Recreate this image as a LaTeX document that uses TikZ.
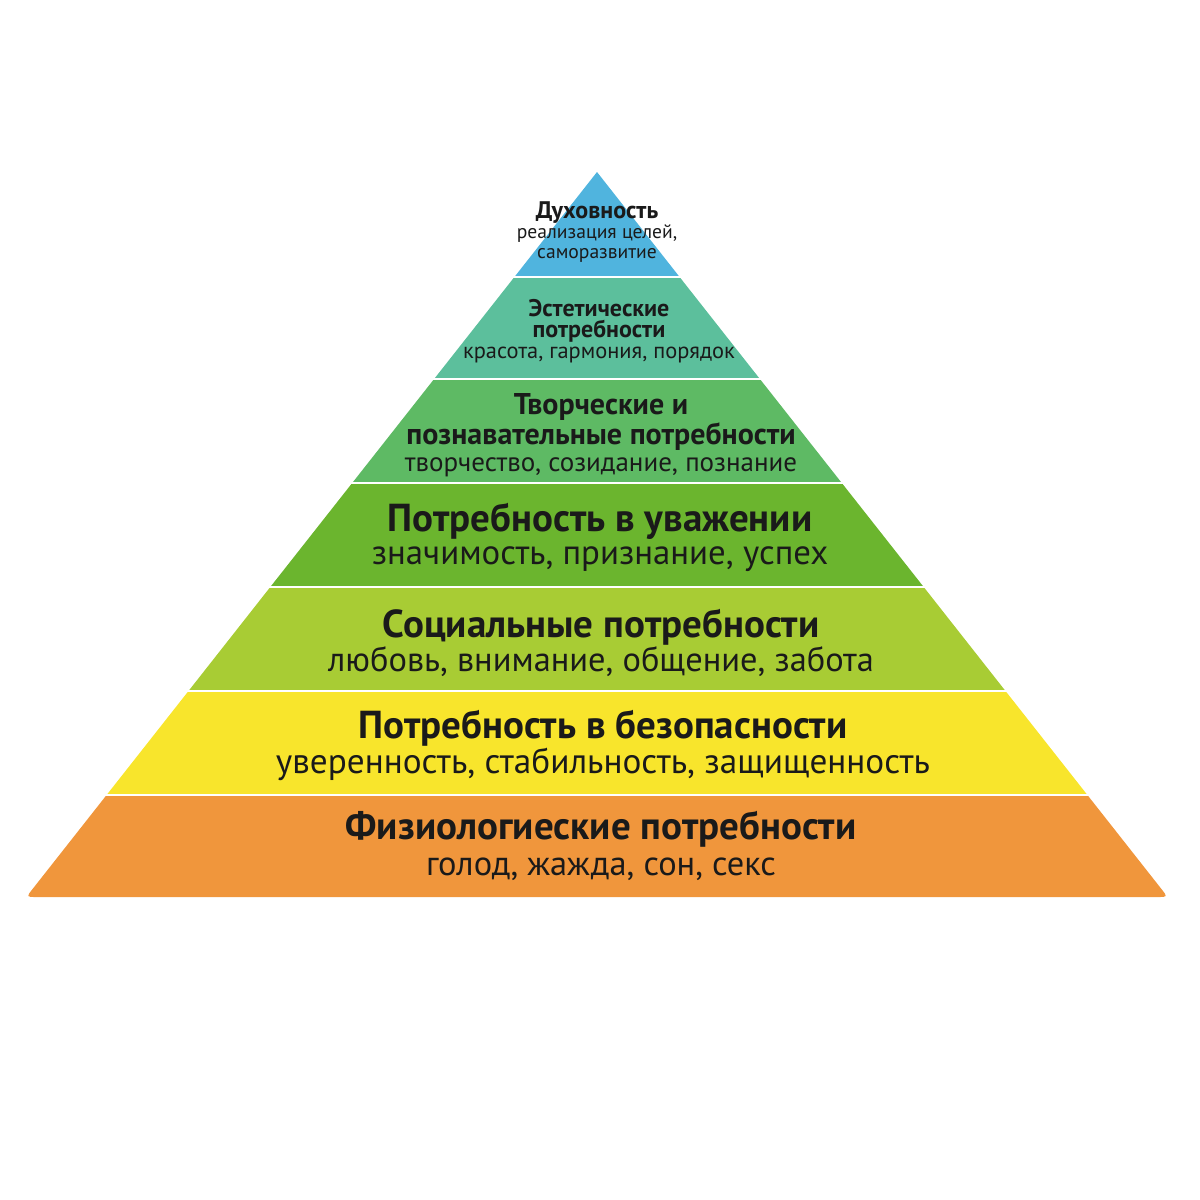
\documentclass[tikz,border=0pt]{standalone}
\usepackage{fontspec}
\setmainfont{PT Sans}
\usetikzlibrary{calc}
\definecolor{lvlA}{HTML}{50B4DE}
\definecolor{lvlB}{HTML}{5CBF9C}
\definecolor{lvlC}{HTML}{5EBA64}
\definecolor{lvlD}{HTML}{6BB52E}
\definecolor{lvlE}{HTML}{A8CC34}
\definecolor{lvlF}{HTML}{F8E52C}
\definecolor{lvlG}{HTML}{F0963C}
\definecolor{ink}{HTML}{1A1A1A}
\newcommand{\lvlfont}[2]{\fontsize{#1}{#2}\selectfont}
\newcommand{\lvlhead}[3]{{\fontsize{#1}{#2}\selectfont\bfseries #3}}

\begin{document}
\begin{tikzpicture}[x=.5pt,y=-.5pt,
  lvltext/.style={align=center,inner sep=0pt,text=ink},
  sep/.style={white,line width=1.1pt}]
 \useasboundingbox (0,0) rectangle (1200,1200);
 % layers, top to bottom
 \fill[lvlA] (597,172)--(679.6,277)--(514.4,277)--cycle;
 \fill[lvlB] (514.4,277)--(679.6,277)--(759.9,379)--(434.1,379)--cycle;
 \fill[lvlC] (434.1,379)--(759.9,379)--(841.8,483)--(352.2,483)--cycle;
 \fill[lvlD] (352.2,483)--(841.8,483)--(923.7,587)--(270.3,587)--cycle;
 \fill[lvlE] (270.3,587)--(923.7,587)--(1005.5,691)--(188.5,691)--cycle;
 \fill[lvlF] (188.5,691)--(1005.5,691)--(1087.4,795)--(106.6,795)--cycle;
 \fill[lvlG] (106.6,795)--(1087.4,795)--(1161.5,889.1) .. controls (1167.7,897) .. (1157.7,897)
   --(36.3,897) .. controls (26.3,897) .. (32.5,889.1)--cycle;
 % white gaps
 \foreach \y in {277,379,483,587,691,795}
   \draw[sep] (0,\y)--(1200,\y);
 % texts
 \node[lvltext,font=\lvlfont{9.8}{10}] (spirit) at (597,232)
   {\lvlhead{12}{10}{Духовность}\\реализация целей,\\саморазвитие};
 \node[lvltext,font=\lvlfont{11.2}{10.5}] (aesthetic) at (599,331)
   {\lvlhead{12}{10.5}{Эстетические}\\\lvlhead{12}{10.5}{потребности}\\красота, гармония, порядок};
 \node[lvltext,font=\lvlfont{13.5}{13.5}] (cognitive) at (601,435)
   {\lvlhead{15}{13.5}{Творческие и}\\\lvlhead{15}{13.5}{познавательные потребности}\\творчество, созидание, познание};
 \node[lvltext,font=\lvlfont{17.4}{16.5}] (esteem) at (600,537)
   {\lvlhead{19.5}{16.5}{Потребность в уважении}\\значимость, признание, успех};
 \node[lvltext,font=\lvlfont{17.2}{17}] (social) at (601,643)
   {\lvlhead{19.5}{17}{Социальные потребности}\\любовь, внимание, общение, забота};
 \node[lvltext,font=\lvlfont{17.6}{17.5}] (safety) at (603,745)
   {\lvlhead{19.5}{17.5}{Потребность в безопасности}\\уверенность, стабильность, защищенность};
 \node[lvltext,font=\lvlfont{17.2}{18}] (body) at (601,846)
   {\lvlhead{19.5}{18}{Физиологиеские потребности}\\голод, жажда, сон, секс};
\end{tikzpicture}
\end{document}
